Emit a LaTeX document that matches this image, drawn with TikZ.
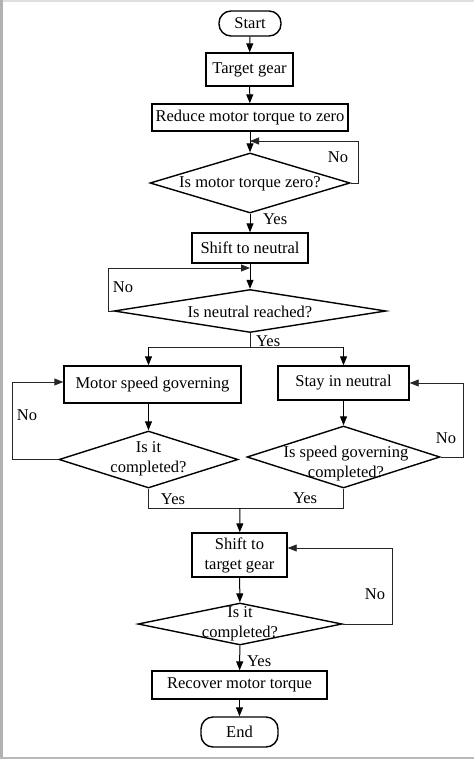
\documentclass[tikz,border=0pt]{standalone}
\usepackage{fontspec}
\setmainfont{Liberation Serif}
\usetikzlibrary{arrows.meta, positioning, calc, shapes.geometric}

\begin{document}
\begin{tikzpicture}[x=1pt, y=-1pt,
    every node/.style={font=\fontsize{16.5}{20}\selectfont, inner sep=0pt, align=center},
    box/.style={rectangle, draw, line width=1.4pt},
    term/.style={rectangle, draw, line width=1.4pt, rounded corners=12pt},
    decision/.style={diamond, draw, line width=1.4pt},
    arr/.style={-{Triangle[length=9pt, width=7pt]}, line width=1pt},
    ln/.style={line width=0.9pt, black!85}]
    \useasboundingbox (0,0) rectangle (474,759);
    \fill[gray!25] (0,0) rectangle (474,2);
    \fill[gray!60] (0,0) rectangle (2.5,759);
    \fill[gray!55] (0,756.5) rectangle (474,759);

    \node[term, minimum width=62pt, minimum height=25pt] (start) at (250,23.5) {Start};
    \node[box, minimum width=87pt, minimum height=33pt] (target) at (249.5,69.5) {Target gear};
    \node[box, minimum width=196pt, minimum height=27pt] (reduce) at (250,117.5) {Reduce motor torque to zero};
    \node[decision, minimum width=200pt, minimum height=60pt] (dzero) at (250,183) {};
    \node (tzero) at (250,184) {Is motor torque zero?};
    \node[box, minimum width=116pt, minimum height=30pt] (neutral) at (250,248) {Shift to neutral};
    \node[decision, minimum width=272pt, minimum height=43pt] (dneutral) at (250,311) {};
    \node (tneutral) at (250,312) {Is neutral reached?};
    \node[box, minimum width=177pt, minimum height=37pt] (govern) at (152.5,384.5) {Motor speed governing};
    \node[box, minimum width=131pt, minimum height=34pt] (stay) at (343.5,383) {Stay in neutral};
    \node[decision, minimum width=179pt, minimum height=57pt] (dgov) at (148.5,459.5) {};
    \node (tgov) at (148.5,459) {Is it\\completed?};
    \node[decision, minimum width=193pt, minimum height=62pt] (dstay) at (343.5,457) {};
    \node (tstay) at (346,464) {Is speed governing\\completed?};
    \node[box, minimum width=95pt, minimum height=44pt] (shift) at (239.5,555) {Shift to\\target gear};
    \node[decision, minimum width=204pt, minimum height=42pt] (dshift) at (240,624) {};
    \node (tshift) at (240,623.5) {Is it\\completed?};
    \node[box, minimum width=175pt, minimum height=28pt] (recover) at (239.5,685) {Recover motor torque};
    \node[term, minimum width=77pt, minimum height=30pt] (end) at (239.5,732) {End};

    \coordinate (jzero) at (250,141);
    \coordinate (jneutral) at (250,268);
    \coordinate (split) at (250,347);
    \coordinate (merge) at (240,508);

    \draw[arr] (start) -- (target);
    \draw[arr] (target) -- (reduce);
    \draw[arr] (reduce) -- (dzero);
    \draw[ln] (dzero.east) -- ++(8,0) |- (jzero);
    \draw[arr, ln] ($(jzero)+(108,0)$) -- (jzero);
    \draw[arr] (dzero) -- (neutral);
    \draw[arr] (neutral) -- (dneutral);
    \draw[ln] (dneutral.west) -- ++(-5,0) |- ($(jneutral)+(-20,0)$);
    \draw[arr, ln] ($(jneutral)+(-21,0)$) -- (jneutral);
    \draw[ln] (dneutral.south) -- (split);
    \draw[ln] (split -| dgov.north) -- (split -| dstay.north);
    \draw[arr] (split -| dgov.north) -- (dgov.north |- govern.north);
    \draw[arr] (split -| dstay.north) -- (dstay.north |- stay.north);
    \draw[arr] (dgov.north |- govern.south) -- (dgov.north);
    \draw[arr] (stay.south -| dstay.north) -- (dstay.north);
    \draw[ln] (dgov.west) -- (12,459.5) |- ($(govern.west)+(-8,-2.5)$);
    \draw[arr, ln] ($(govern.west)+(-9,-2.5)$) -- ($(govern.west)+(0,-2.5)$);
    \draw[ln] (dstay.east) -- (463,457) |- ($(stay.east)+(8,0)$);
    \draw[arr, ln] ($(stay.east)+(9,0)$) -- (stay.east);
    \draw[ln] (dgov.south) -- (merge -| dgov.south) -- (merge -| dstay.south) -- (dstay.south);
    \draw[arr] (merge) -- (shift);
    \draw[arr] (shift) -- (dshift);
    \draw[ln] (dshift.east) -- (392,624) |- ($(shift.east)+(8,-7)$);
    \draw[arr, ln] ($(shift.east)+(9,-7)$) -- ($(shift.east)+(0,-7)$);
    \draw[arr] (dshift) -- (recover);
    \draw[arr] (recover) -- (end);

    \node (nozero) at (338,157) {No};
    \node[anchor=west] (yeszero) at (263,219) {Yes};
    \node (noneutral) at (123,287) {No};
    \node[anchor=west] (yesneutral) at (256,341) {Yes};
    \node (nogov) at (27,415) {No};
    \node (nostay) at (446,438) {No};
    \node (yesgov) at (173,499) {Yes};
    \node (yesstay) at (305,498) {Yes};
    \node (noshift) at (375,594) {No};
    \node[anchor=west] (yesshift) at (247,661) {Yes};
\end{tikzpicture}
\end{document}
